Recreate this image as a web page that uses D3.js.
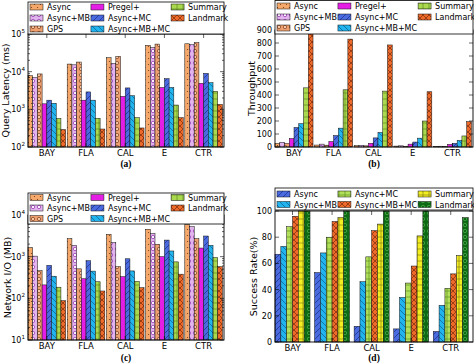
<!DOCTYPE html>
<html><head><meta charset="utf-8">
<script src="https://cdn.jsdelivr.net/npm/d3@7"></script>
<style>body{margin:0;background:#fff}svg{display:block}</style>
</head><body>
<svg id="chart" width="474" height="364"></svg>
<script>
// ---------------- DATA ----------------
const categories = ["BAY", "FLA", "CAL", "E", "CTR"];
const seriesABC = ["Async", "Async+MB", "GPS", "Pregel+", "Async+MC", "Async+MB+MC", "Summary", "Landmark"];
const seriesD = ["Async", "Async+MB", "Async+MC", "Async+MB+MC", "Summary", "Landmark"];

// (a) Query latency (ms); one row per series (seriesABC order), one column per category
const queryLatency = [
  [7800, 15900, 23500, 50000, 55000],
  [7000, 15200, 16500, 44000, 52000],
  [8700, 18000, 25500, 54000, 59000],
  [1400, 1750, 2200, 3800, 4900],
  [1750, 2900, 3700, 6500, 9000],
  [1450, 1750, 2300, 3800, 5100],
  [570, 580, 600, 1300, 3000],
  [290, 300, 320, 600, 1350]
];
// (b) Throughput
const throughput = [
  [28, 15, 10, 7, 5],
  [36, 22, 12, 9, 6],
  [28, 14, 9, 6, 4],
  [65, 42, 28, 22, 20],
  [150, 88, 70, 38, 28],
  [180, 145, 112, 68, 50],
  [455, 440, 430, 200, 85],
  [870, 830, 785, 425, 195]
];
// (c) Network I/O (MB)
const networkIO = [
  [1650, 2700, 3450, 4550, 5900],
  [1030, 1870, 2170, 3600, 5250],
  [460, 510, 575, 1980, 2700],
  [210, 295, 330, 1000, 1610],
  [620, 800, 890, 2500, 3130],
  [340, 450, 455, 1370, 1870],
  [185, 250, 255, 750, 950],
  [88, 150, 180, 380, 575]
];
// (d) Success rate (%), seriesD order
const successRate = [
  [67, 53, 12, 10, 8],
  [73, 68, 46, 34, 28],
  [88, 80, 65, 45, 41],
  [96, 92, 85, 58, 52],
  [100, 95, 90, 81, 66],
  [100, 100, 100, 100, 95]
];
const yTicksB = [0, 100, 200, 300, 400, 500, 600, 700, 800, 900];
const yTicksD = [0, 20, 40, 60, 80, 100];

// ---------------- STYLES ----------------
const stylesABC = [
  {bg: "#f5a86a", hatch: "dots", fg: "#6b3a1a"},
  {bg: "#e2b4ee", hatch: "rings", fg: "#9a3cb8", inner: "#fbf0fc"},
  {bg: "#eea070", hatch: "rings", fg: "#8a4a28", inner: "#f6c8a4"},
  {bg: "#e41ee4", hatch: "none", fg: "#900090"},
  {bg: "#4a6ae0", hatch: "slash", fg: "#1c2c80"},
  {bg: "#22b4ee", hatch: "back", fg: "#0e5a86"},
  {bg: "#aad84e", hatch: "plus", fg: "#5a8a20"},
  {bg: "#ee6a2a", hatch: "cross", fg: "#7a2a08"}
];
const stylesD = [
  {bg: "#4a6ae0", hatch: "slash", fg: "#1c2c80"},
  {bg: "#22b4ee", hatch: "back", fg: "#0e5a86"},
  {bg: "#b2e05a", hatch: "plus", fg: "#5f9220"},
  {bg: "#ee6a2a", hatch: "cross", fg: "#7a2a08"},
  {bg: "#f2ee22", hatch: "plus", fg: "#8a8210"},
  {bg: "#0c6a12", hatch: "rings", fg: "#4aa84a", inner: "#0c6a12"}
];

const svg = d3.select("#chart");
const defs = svg.append("defs");
const FONT = "DejaVu Sans, sans-serif";

function makePattern(id, s) {
  const p = defs.append("pattern").attr("id", id)
    .attr("patternUnits", "userSpaceOnUse").attr("width", 6).attr("height", 6);
  p.append("rect").attr("width", 6).attr("height", 6).attr("fill", s.bg);
  const line = (x1, y1, x2, y2) => p.append("line").attr("x1", x1).attr("y1", y1)
    .attr("x2", x2).attr("y2", y2).attr("stroke", s.fg).attr("stroke-width", 0.7);
  if (s.hatch === "dots") {
    p.append("circle").attr("cx", 1.5).attr("cy", 1.5).attr("r", 0.6).attr("fill", s.fg);
    p.append("circle").attr("cx", 4.5).attr("cy", 4.5).attr("r", 0.6).attr("fill", s.fg);
  } else if (s.hatch === "rings") {
    p.append("circle").attr("cx", 3).attr("cy", 3).attr("r", 1.7)
      .attr("fill", s.inner).attr("stroke", s.fg).attr("stroke-width", 0.8);
  } else if (s.hatch === "slash") {
    line(0, 6, 6, 0); line(-1, 1, 1, -1); line(5, 7, 7, 5);
  } else if (s.hatch === "back") {
    line(0, 0, 6, 6); line(-1, 5, 1, 7); line(5, -1, 7, 1);
  } else if (s.hatch === "plus") {
    line(3, 0, 3, 6); line(0, 3, 6, 3);
  } else if (s.hatch === "cross") {
    line(0, 0, 6, 6); line(0, 6, 6, 0);
  }
}
stylesABC.forEach((s, i) => makePattern("pA" + i, s));
stylesD.forEach((s, i) => makePattern("pD" + i, s));

function drawPanel(cfg) {
  const g = svg.append("g");
  const x = d3.scaleBand().domain(categories).range([cfg.x0, cfg.x1])
    .paddingInner(cfg.pi).paddingOuter(cfg.po).align(0);
  const xi = d3.scaleBand().domain(cfg.series).range([0, x.bandwidth()]);
  const y = (cfg.log ? d3.scaleLog() : d3.scaleLinear())
    .domain(cfg.domain).range([cfg.yBot, cfg.yTop]);
  const base = cfg.domain[0];

  // bars
  cfg.series.forEach((name, si) => {
    g.append("g").selectAll("rect").data(cfg.values[si]).join("rect")
      .attr("x", (d, ci) => x(categories[ci]) + xi(name))
      .attr("width", xi.bandwidth())
      .attr("y", d => y(d))
      .attr("height", d => y(base) - y(d))
      .attr("fill", `url(#${cfg.pat}${si})`)
      .attr("stroke", "#111").attr("stroke-width", 0.5);
  });

  // frame
  g.append("rect").attr("x", cfg.x0).attr("y", cfg.yTop)
    .attr("width", cfg.x1 - cfg.x0).attr("height", cfg.yBot - cfg.yTop)
    .attr("fill", "none").attr("stroke", "#000").attr("stroke-width", 0.9);

  // y ticks
  let major, minor = [];
  if (cfg.log) {
    const all = y.ticks();
    major = all.filter(v => Math.abs(Math.log10(v) - Math.round(Math.log10(v))) < 1e-9);
    minor = all.filter(v => !major.includes(v));
  } else {
    major = cfg.ticks;
  }
  const tk = g.append("g").attr("stroke", "#000").attr("stroke-width", 0.6);
  major.forEach(v => {
    tk.append("line").attr("x1", cfg.x0).attr("x2", cfg.x0 + 4).attr("y1", y(v)).attr("y2", y(v));
    tk.append("line").attr("x1", cfg.x1).attr("x2", cfg.x1 - 4).attr("y1", y(v)).attr("y2", y(v));
  });
  minor.forEach(v => {
    tk.append("line").attr("x1", cfg.x0).attr("x2", cfg.x0 + 2).attr("y1", y(v)).attr("y2", y(v));
    tk.append("line").attr("x1", cfg.x1).attr("x2", cfg.x1 - 2).attr("y1", y(v)).attr("y2", y(v));
  });
  categories.forEach(c => {
    const cx = x(c) + x.bandwidth() / 2;
    tk.append("line").attr("x1", cx).attr("x2", cx).attr("y1", cfg.yBot).attr("y2", cfg.yBot - 4);
    tk.append("line").attr("x1", cx).attr("x2", cx).attr("y1", cfg.yTop).attr("y2", cfg.yTop + 4);
  });

  // y tick labels
  major.forEach(v => {
    const t = g.append("text").attr("x", cfg.x0 - 3).attr("y", y(v) + 3)
      .attr("text-anchor", "end").attr("font-family", FONT).attr("font-size", 8).attr("fill", "#000");
    if (cfg.log) {
      t.append("tspan").text("10");
      t.append("tspan").attr("dy", -4).attr("font-size", 5.6).text(Math.round(Math.log10(v)));
    } else {
      t.text(v);
    }
  });
  // x tick labels
  categories.forEach(c => {
    g.append("text").attr("x", x(c) + x.bandwidth() / 2).attr("y", cfg.yBot + 9)
      .attr("text-anchor", "middle").attr("font-family", FONT).attr("font-size", 8.5)
      .text(c);
  });
  // y label
  g.append("text").attr("transform", `translate(${cfg.ylx},${(cfg.yTop + cfg.yBot) / 2}) rotate(-90)`)
    .attr("text-anchor", "middle").attr("dominant-baseline", "central")
    .attr("font-family", FONT).attr("font-size", 9.5).text(cfg.ylabel);
  // caption
  g.append("text").attr("x", (cfg.x0 + cfg.x1) / 2).attr("y", cfg.capY)
    .attr("text-anchor", "middle").attr("font-family", "Liberation Serif, serif")
    .attr("font-weight", "bold").attr("font-size", 9.5).text(cfg.caption);

  // legend
  const L = g.append("g");
  L.append("rect").attr("x", cfg.x0).attr("y", cfg.leg[0])
    .attr("width", cfg.x1 - cfg.x0).attr("height", cfg.leg[1] - cfg.leg[0])
    .attr("fill", "#fff").attr("stroke", "#000").attr("stroke-width", 0.8);
  const rows = cfg.rows.length;
  const ncol = Math.ceil(cfg.series.length / rows);
  let colX = cfg.x0 + 2;
  for (let c = 0; c < ncol; c++) {
    let maxW = 0;
    for (let r = 0; r < rows; r++) {
      const si = c * rows + r;
      if (si >= cfg.series.length) break;
      const ry = cfg.rows[r];
      L.append("rect").attr("x", colX).attr("y", ry - 3).attr("width", 13).attr("height", 6)
        .attr("fill", `url(#${cfg.pat}${si})`).attr("stroke", "#111").attr("stroke-width", 0.5);
      const t = L.append("text").attr("x", colX + 17).attr("y", ry + 3)
        .attr("font-family", FONT).attr("font-size", 8).text(cfg.series[si]);
      maxW = Math.max(maxW, t.node().getComputedTextLength());
    }
    colX += 17 + maxW + 1;
  }
}

drawPanel({x0: 28, x1: 224, yTop: 34, yBot: 147, log: true, domain: [1e2, 1e5],
  series: seriesABC, values: queryLatency, pat: "pA", pi: 0.04, po: 0.02,
  ylabel: "Query Latency (ms)", ylx: 5, caption: "(a)", capY: 167,
  leg: [2, 34], rows: [7, 18, 29]});
drawPanel({x0: 275, x1: 473, yTop: 30, yBot: 147, log: false, domain: [0, 900], ticks: yTicksB,
  series: seriesABC, values: throughput, pat: "pA", pi: 0.04, po: 0.02,
  ylabel: "Throughput", ylx: 251, caption: "(b)", capY: 167,
  leg: [0.5, 34], rows: [6, 17, 28]});
drawPanel({x0: 28, x1: 224, yTop: 215, yBot: 340, log: true, domain: [1e1, 1e4],
  series: seriesABC, values: networkIO, pat: "pA", pi: 0.04, po: 0.02,
  ylabel: "Network I/O (MB)", ylx: 7, caption: "(c)", capY: 361,
  leg: [193, 224], rows: [197.5, 208, 218.5]});
drawPanel({x0: 275, x1: 473, yTop: 211, yBot: 342, log: false, domain: [0, 100], ticks: yTicksD,
  series: seriesD, values: successRate, pat: "pD", pi: 0.115, po: 0.06,
  ylabel: "Success Rate(%)", ylx: 253, caption: "(d)", capY: 361,
  leg: [188, 210], rows: [194, 204.5]});
</script>
</body></html>
